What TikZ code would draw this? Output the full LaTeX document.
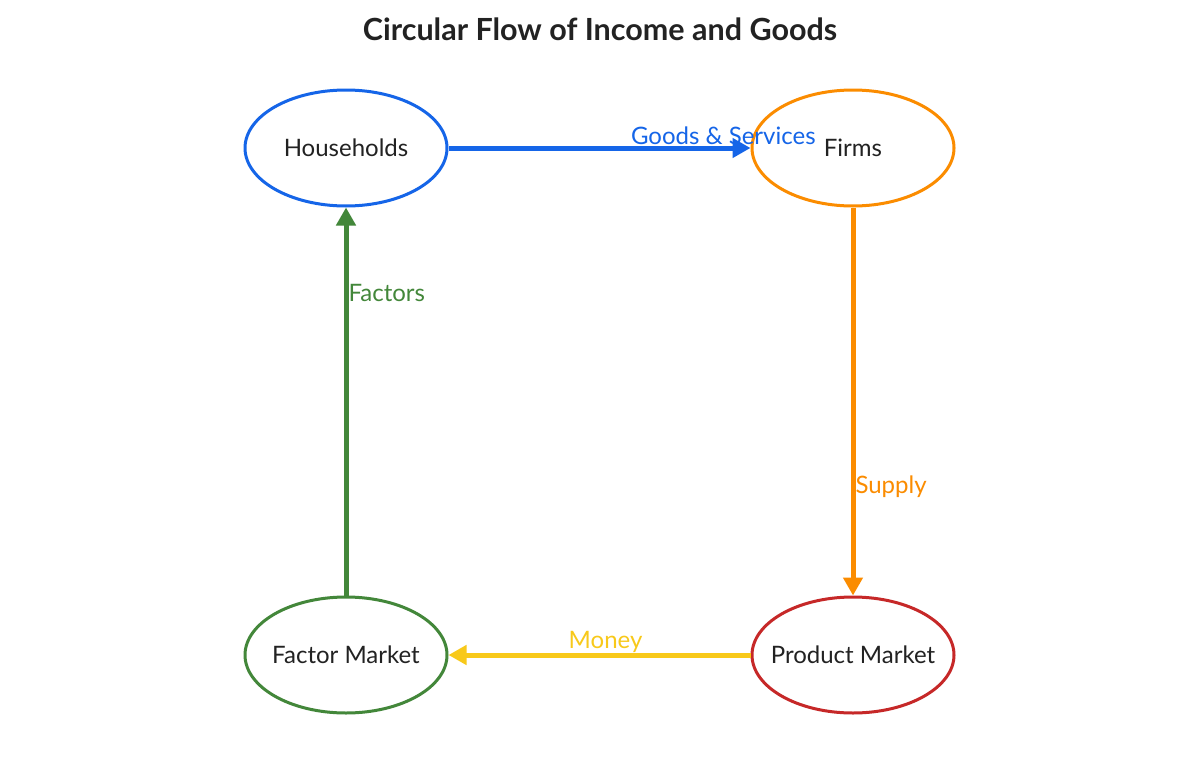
\documentclass[tikz,border=0pt]{standalone}
\usepackage{fontspec}
\setmainfont{Lato}
\usetikzlibrary{shapes.geometric,arrows.meta}
\definecolor{cblue}{HTML}{1565E8}
\definecolor{corange}{HTML}{FB8C00}
\definecolor{cred}{HTML}{C62828}
\definecolor{cgreen}{HTML}{43873A}
\definecolor{cyellow}{HTML}{F8C91A}
\definecolor{ctext}{HTML}{222222}
\tikzset{
  oval/.style={ellipse, draw, line width=3pt, minimum width=202pt, minimum height=116pt, inner xsep=-25pt, inner ysep=0pt, text=ctext, font=\fontsize{24}{28}\selectfont},
  flow/.style={line width=5pt, -{Triangle[length=18pt,width=19pt]}},
  lbl/.style={font=\fontsize{24}{28}\selectfont, inner sep=0pt},
}
\begin{document}
\begin{tikzpicture}[x=1pt,y=-1pt]
\useasboundingbox (0,0) rectangle (1200,763);
\fill[white] (0,0) rectangle (1200,763);
\node[font=\fontsize{30.5}{34}\selectfont\bfseries, text=ctext] (title) at (600,29) {Circular Flow of Income and Goods};
\node[oval, draw=cblue] (hh) at (346,148) {Households};
\node[oval, draw=corange] (firms) at (853,148) {Firms};
\node[oval, draw=cgreen] (fm) at (346,655) {Factor Market};
\node[oval, draw=cred] (pm) at (853,655) {Product Market};
\draw[flow, cblue] (hh) -- (firms) node[lbl, pos=0.91, yshift=12pt, text=cblue] {Goods \& Services};
\draw[flow, corange] (firms) -- (pm) node[lbl, pos=0.72, anchor=west, text=corange] {Supply};
\draw[flow, cyellow] (pm) -- (fm) node[lbl, pos=0.48, yshift=13pt, text=cyellow] {Money};
\draw[flow, cgreen] (fm) -- (hh) node[lbl, pos=0.78, anchor=west, text=cgreen] {Factors};
\end{tikzpicture}
\end{document}
